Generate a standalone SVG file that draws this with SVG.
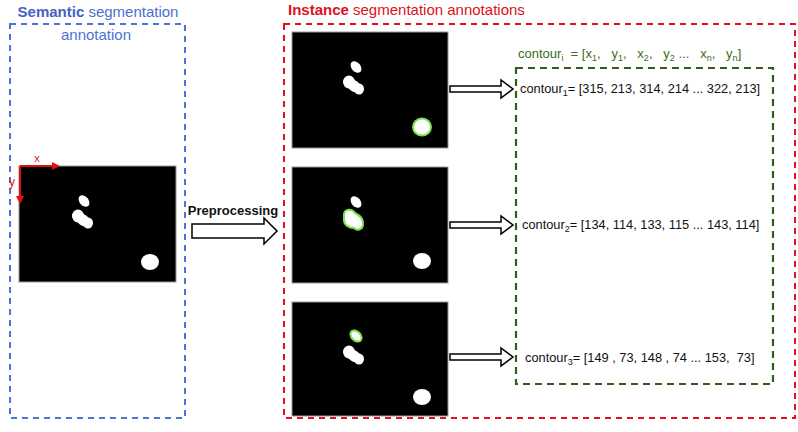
<svg xmlns="http://www.w3.org/2000/svg" width="798" height="432" viewBox="0 0 798 432">
<defs>
<style>
.t{font-family:"Liberation Sans",Arial,sans-serif;white-space:pre}
.img{fill:#000;stroke:#999;stroke-width:1}
.blob{fill:#fff}
.hl{fill:#fff;stroke:#7ee04a;stroke-width:2}
.harrow{fill:#fff;stroke:#000;stroke-width:1.5}
</style>
</defs>
<rect width="798" height="432" fill="#fff"/>

<g id="semantic">
<rect x="10" y="24" width="175" height="394" fill="none" stroke="#4a74d6" stroke-width="2" stroke-dasharray="6,5"/>
<text class="t" x="98" y="17" font-size="15" text-anchor="middle" fill="#4a6fd0"><tspan font-weight="bold" fill="#4563c0">Semantic</tspan> segmentation</text>
<text class="t" x="96" y="40" font-size="15" text-anchor="middle" fill="#4a74d6">annotation</text>
<rect class="img" x="19" y="166" width="157" height="116"/>
<g class="blob">
<ellipse cx="84" cy="201" rx="4.5" ry="6.5" transform="rotate(-40 84 201)"/>
<ellipse cx="78" cy="216" rx="6" ry="6.5"/>
<ellipse cx="88" cy="223" rx="5" ry="5.5"/>
<ellipse cx="83" cy="220" rx="8" ry="5.5" transform="rotate(35 83 220)"/>
<ellipse cx="150" cy="262" rx="9" ry="8"/>
</g>
<g stroke="#e01010" stroke-width="2" fill="#e01010">
<line x1="20" y1="166" x2="54" y2="166"/>
<polygon points="60,166 52,162 52,170" stroke="none"/>
<line x1="20" y1="166" x2="20" y2="198"/>
<polygon points="20,204 16,196 24,196" stroke="none"/>
</g>
<text class="t" x="37" y="162" font-size="11" text-anchor="middle" fill="#e01010">x</text>
<text class="t" x="12" y="186" font-size="12" text-anchor="middle" fill="#e01010">y</text>
</g>

<g id="preprocessing">
<text class="t" x="233" y="215" font-size="13" font-weight="bold" text-anchor="middle" fill="#111">Preprocessing</text>
<polygon class="harrow" points="192,224 264,224 264,218 277,231 264,244 264,238 192,238"/>
</g>

<g id="instance">
<rect x="284" y="24" width="511" height="394" fill="none" stroke="#e0101e" stroke-width="2" stroke-dasharray="6,5"/>
<text class="t" x="288" y="15" font-size="15" fill="#e0101e"><tspan font-weight="bold">Instance</tspan> segmentation annotations</text>
</g>

<g id="image1">
<rect class="img" x="292" y="32" width="156" height="116"/>
<g class="blob">
<ellipse cx="356" cy="67" rx="4.5" ry="6.5" transform="rotate(-40 356 67)"/>
<ellipse cx="349" cy="82" rx="6" ry="6.5"/>
<ellipse cx="359" cy="89" rx="5" ry="5.5"/>
<ellipse cx="354" cy="86" rx="8" ry="5.5" transform="rotate(35 354 86)"/>
</g>
<ellipse class="hl" cx="422" cy="127" rx="9" ry="8.5"/>
</g>

<g id="image2">
<rect class="img" x="292" y="167" width="156" height="116"/>
<ellipse class="blob" cx="356" cy="202" rx="4.5" ry="6.5" transform="rotate(-40 356 202)"/>
<path class="hl" d="M344,214 C345,209 352,208 355,213 C359,215 364,218 363,225 C362,230 357,231 354,228 C349,228 344,225 344,220 Z"/>
<ellipse class="blob" cx="422" cy="261" rx="9" ry="8"/>
</g>

<g id="image3">
<rect class="img" x="292" y="302" width="156" height="114"/>
<ellipse class="hl" cx="356" cy="336" rx="4.5" ry="6.5" transform="rotate(-45 356 336)"/>
<g class="blob">
<ellipse cx="349" cy="352" rx="6" ry="6.5"/>
<ellipse cx="359" cy="359" rx="5" ry="5.5"/>
<ellipse cx="354" cy="356" rx="8" ry="5.5" transform="rotate(35 354 356)"/>
<ellipse cx="422" cy="397" rx="9" ry="8"/>
</g>
</g>

<g id="connectors">
<polygon class="harrow" points="450,86 501,86 501,80 513,89 501,98 501,92 450,92"/>
<polygon class="harrow" points="450,222 501,222 501,216 513,225 501,234 501,228 450,228"/>
<polygon class="harrow" points="450,354 501,354 501,348 513,357 501,366 501,360 450,360"/>
</g>

<g id="contours">
<text class="t" x="518" y="58" font-size="13" fill="#3d6b22">contour<tspan font-size="9" dy="3">i</tspan><tspan dy="-3">  = [x</tspan><tspan font-size="9" dy="3">1</tspan><tspan dy="-3">,   y</tspan><tspan font-size="9" dy="3">1</tspan><tspan dy="-3">,   x</tspan><tspan font-size="9" dy="3">2</tspan><tspan dy="-3">,   y</tspan><tspan font-size="9" dy="3">2</tspan><tspan dy="-3"> ...   x</tspan><tspan font-size="9" dy="3">n</tspan><tspan dy="-3">,   y</tspan><tspan font-size="9" dy="3">n</tspan><tspan dy="-3">]</tspan></text>
<rect x="516" y="68" width="257" height="316" fill="none" stroke="#2f5f1a" stroke-width="2.2" stroke-dasharray="7,5"/>
<text class="t" x="520" y="93" font-size="12.8" fill="#111">contour<tspan font-size="9" dy="3">1</tspan><tspan dy="-3">= [315, 213, 314, 214 ... 322, 213]</tspan></text>
<text class="t" x="522" y="229" font-size="12.8" fill="#111">contour<tspan font-size="9" dy="3">2</tspan><tspan dy="-3">= [134, 114, 133, 115 ... 143, 114]</tspan></text>
<text class="t" x="525" y="362" font-size="12.8" fill="#111">contour<tspan font-size="9" dy="3">3</tspan><tspan dy="-3">= [149 , 73, 148 , 74 ... 153,  73]</tspan></text>
</g>
</svg>
